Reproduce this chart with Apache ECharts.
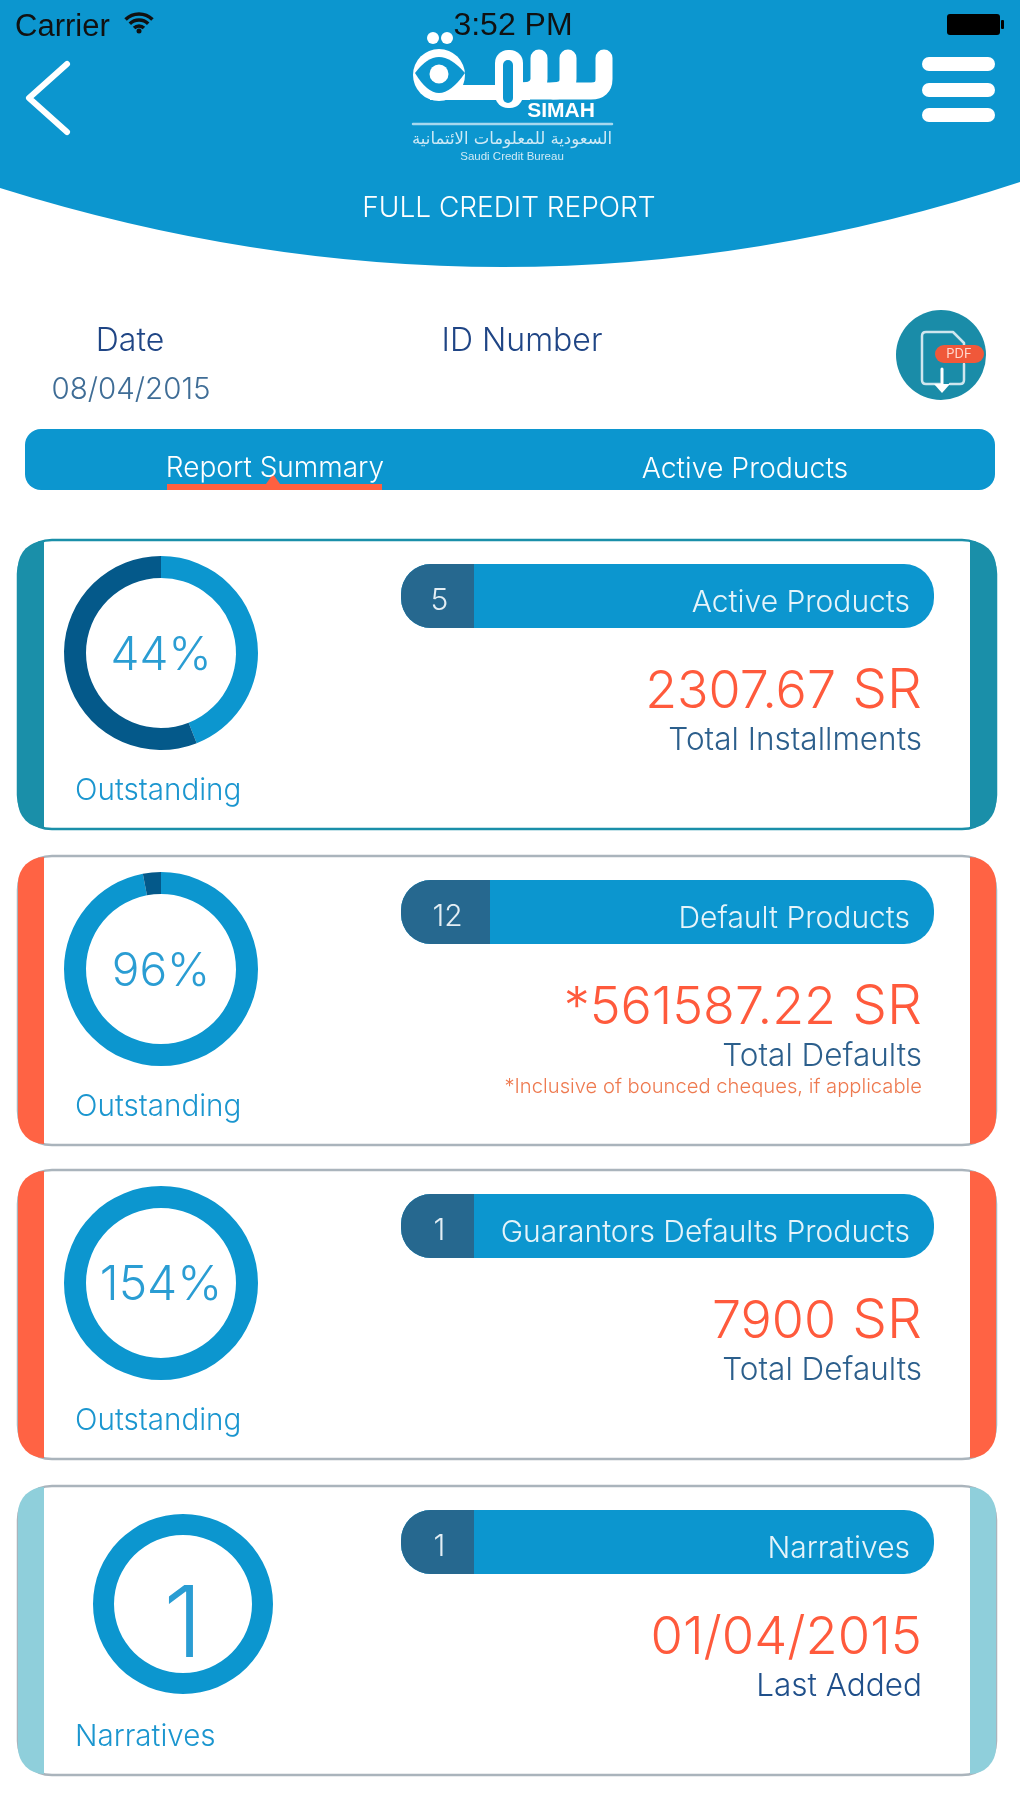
<!DOCTYPE html>
<html>
<head>
<meta charset="utf-8">
<title>Full Credit Report</title>
<script src="https://cdn.jsdelivr.net/npm/echarts@6/dist/echarts.min.js"></script>
<style>
html, body { margin: 0; padding: 0; background: #fff; }
#main { width: 1020px; height: 1813px; }
</style>
</head>
<body>
<div id="main"></div>
<script>
var outstanding = [44, 96, 154];
var ringShare = [44, 97, 100];
var narrativesCount = [1];
var productCounts = ['5', '12', '1', '1'];
var productNames = ['Active Products', 'Default Products', 'Guarantors Defaults Products', 'Narratives'];
var amounts = ['2307.67', '*561587.22', '7900', '01/04/2015'];
var amountUnits = ['SR', 'SR', 'SR', ''];
var amountNames = ['Total Installments', 'Total Defaults', 'Total Defaults', 'Last Added'];
var ringNames = ['Outstanding', 'Outstanding', 'Outstanding', 'Narratives'];

var BLUE = '#0c96cf';
var DARK = '#04598a';
var FONT = 'Inter, "Liberation Sans", sans-serif';
var STATUS_FONT = '"Liberation Sans", Arial, sans-serif';

var cardTops = [540, 856, 1170, 1486];
var stripColors = ['#1a8fa9', '#ff6344', '#ff6344', '#8fcfdb'];
var borderColors = ['#1a8fa9', '#aab4bc', '#aab4bc', '#aab4bc'];
var nameColors = ['#2c5f8c', '#2c5f8c', '#2c5f8c', '#1f4f8a'];
var countEnds = [474, 490, 474, 474];

var myChart = echarts.init(document.getElementById('main'));
var g = [];
var pathCount = 0;

function txt(x, y, s, size, color, align, weight, family) {
    g.push({
        type: 'text', z: 10, silent: true,
        style: {
            x: x, y: y, text: s, fill: color, align: align || 'center', verticalAlign: 'middle',
            font: (weight || '300') + ' ' + size + 'px ' + (family || FONT)
        }
    });
}
function box(x, y, w, h, r, fill, stroke, lw, z) {
    g.push({
        type: 'rect', z: z || 1, silent: true,
        shape: { x: x, y: y, width: w, height: h, r: r },
        style: { fill: fill, stroke: stroke || null, lineWidth: lw || 0 }
    });
}
function pathShape(d, fill, stroke, lw, z) {
    var name = 'svgPath' + (pathCount++);
    echarts.graphic.registerShape(name, echarts.graphic.extendPath(d));
    g.push({
        type: name, z: z || 2, silent: true,
        style: { fill: fill || 'none', stroke: stroke || null, lineWidth: lw || 0, lineCap: 'round', lineJoin: 'round' }
    });
}
function circle(cx, cy, r, fill, z) {
    g.push({ type: 'circle', z: z || 3, silent: true, shape: { cx: cx, cy: cy, r: r }, style: { fill: fill } });
}
function line(x1, y1, x2, y2, color, lw, z) {
    g.push({
        type: 'line', z: z || 3, silent: true,
        shape: { x1: x1, y1: y1, x2: x2, y2: y2 },
        style: { stroke: color, lineWidth: lw, lineCap: 'round' }
    });
}
function arc(cx, cy, r, color, lw) {
    g.push({
        type: 'arc', z: 3, silent: true,
        shape: { cx: cx, cy: cy, r: r, startAngle: -Math.PI * 0.75, endAngle: -Math.PI * 0.25, clockwise: true },
        style: { stroke: color, lineWidth: lw, fill: 'none' }
    });
}

// header
pathShape('M0 0 H1020 V182 Q514 349 0 188 Z', BLUE, null, 0, 1);
txt(15, 27, 'Carrier', 31, '#111', 'left', '400', STATUS_FONT);
txt(513, 26, '3:52 PM', 32, '#111', 'center', '400', STATUS_FONT);
arc(139, 33, 7, '#111', 3.5);
arc(139, 33, 13, '#111', 3.5);
arc(139, 33, 19, '#111', 3.5);
circle(139, 31, 2.5, '#111');
box(947, 14, 53, 21, 3, '#000');
box(1001, 20, 3, 9, 1, '#000');
pathShape('M67 64 L29 98 L67 132', null, '#fff', 6);
box(922, 57, 73, 14, 7, '#fff');
box(922, 83, 73, 14, 7, '#fff');
box(922, 108, 73, 14, 7, '#fff');

// logo
circle(433, 38, 6, '#fff');
circle(447, 38, 6, '#fff');
circle(439, 75, 26, '#fff');
pathShape('M415 73 Q427 57 439 57 Q451 57 465 73 Q451 93 439 93 Q427 93 415 73 Z', BLUE, null, 0, 4);
circle(439, 74, 9.5, '#fff', 5);
box(430, 85, 100, 15, 0, '#fff', null, 0, 3);
box(495, 50, 28, 58, 13, '#fff', null, 0, 3);
box(503, 60, 10, 43, 5, BLUE, null, 0, 4);
pathShape('M520 91 H591 Q604 91 604 79 V58', null, '#fff', 17, 3);
pathShape('M520 91 Q539 91 539 79 V58', null, '#fff', 17, 3);
pathShape('M553 91 Q568 91 568 79 V58', null, '#fff', 17, 3);
txt(561, 111, 'SIMAH', 21, '#fff', 'center', 'bold', STATUS_FONT);
line(413, 124, 612, 124, '#a6d8ee', 2.5);
txt(512, 140, 'السعودية للمعلومات الائتمانية', 16.5, '#cfeaf6', 'center', '400', '"DejaVu Sans"');
txt(512, 157, 'Saudi Credit Bureau', 11.5, '#cfeaf6', 'center', '400', STATUS_FONT);
txt(509, 209, 'FULL CREDIT REPORT', 28, '#fff');

// id row
txt(130, 341, 'Date', 32, '#1f4585', 'center', '300');
txt(522, 341, 'ID Number', 32, '#1f4585', 'center', '300');
txt(131, 390, '08/04/2015', 29.5, '#3f6d96');
circle(941, 355, 45, '#1a8ca8');
pathShape('M940 384 H926 Q922 384 922 380 V336 Q922 332 926 332 H953 L964 343 V346 M964 364 V380 Q964 384 960 384 H950', null, '#cfe6ee', 2.5, 4);
box(935, 345, 49, 18, 9, '#f0583a', null, 0, 5);
txt(959, 354, 'PDF', 13, '#ffd9cf', 'center', '400');
line(942, 369, 942, 385, '#fff', 3, 5);
pathShape('M934 384 H950 L942 393 Z', '#fff', null, 0, 5);

// tabs
box(25, 429, 970, 61, 16, BLUE);
txt(275, 469, 'Report Summary', 28, '#fff');
txt(745, 469, 'Active Products', 28.4, '#fff');
box(167, 484, 215, 6, 0, '#ff6040', null, 0, 3);
pathShape('M266 484 L273 474 L280 484 Z', '#ff6040', null, 0, 3);

// cards
var series = [];
for (var i = 0; i < 4; i++) {
    var cardY = cardTops[i];
    box(18, cardY, 978, 289, 34, '#fff', borderColors[i], 2.5, 1);
    box(18, cardY + 1, 26, 287, [33, 0, 0, 33], stripColors[i], null, 0, 2);
    box(970, cardY + 1, 26, 287, [0, 33, 33, 0], stripColors[i], null, 0, 2);

    var pillY = cardY + 24;
    box(401, pillY, 533, 64, 30, BLUE, null, 0, 3);
    box(401, pillY, countEnds[i] - 401, 64, [30, 0, 0, 30], '#26688f', null, 0, 4);
    txt((401 + countEnds[i]) / 2 + 2, pillY + 37, productCounts[i], 30, '#e4eef4');
    txt(910, pillY + 39, productNames[i], 30, '#e6f4fa', 'right');

    if (amountUnits[i]) {
        txt(922, cardY + 151, amountUnits[i], 55, '#ff5a3c', 'right');
        txt(836, cardY + 152, amounts[i], 52, '#ff5a3c', 'right');
    } else {
        txt(922, cardY + 152, amounts[i], 52.5, '#ff5a3c', 'right');
    }
    txt(922, cardY + 201, amountNames[i], 31.5, nameColors[i], 'right');

    var isRing = i < 3;
    txt(75, cardY + 251, ringNames[i], 29.6, '#1b96cf', 'left');
    if (isRing) {
        txt(161, cardY + 116, outstanding[i] + '%', i == 2 ? 48 : 46, '#2a9dd3');
    } else {
        txt(183, cardY + 141, String(narrativesCount[0]), 99, '#2a9dd3');
    }

    var shown = isRing ? ringShare[i] : 100;
    series.push({
        type: 'pie',
        silent: true,
        animation: false,
        clockwise: true,
        startAngle: 90,
        center: isRing ? [161, cardY + 113] : [183, cardY + 118],
        radius: isRing ? [75, 97] : [69, 90],
        label: { show: false },
        labelLine: { show: false },
        z: 5,
        data: [
            { value: shown, itemStyle: { color: BLUE } },
            { value: 100 - shown, itemStyle: { color: DARK } }
        ]
    });
}
txt(922, 1087, '*Inclusive of bounced cheques, if applicable', 20.2, '#ee7a50', 'right');

var option = {
    animation: false,
    backgroundColor: '#fff',
    graphic: { elements: g },
    series: series
};
myChart.setOption(option);
</script>
</body>
</html>
